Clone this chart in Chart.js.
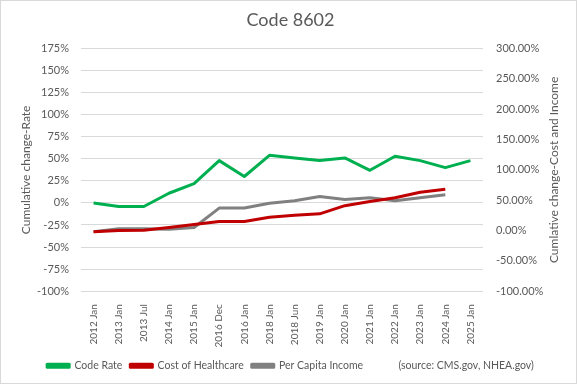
<!DOCTYPE html>
<html>
<head>
<meta charset="utf-8">
<script src="https://cdn.jsdelivr.net/npm/chart.js@4"></script>
<style>
  html, body { margin: 0; padding: 0; background: #fff; }
  #wrap { width: 575px; height: 382px; border: 1px solid #d9d9d9; }
</style>
</head>
<body>
<div id="wrap"><canvas id="chart" width="575" height="382"></canvas></div>
<script>
// categories (x axis)
const periods = ['2012 Jan', '2013 Jan', '2013 Jul', '2014 Jan', '2015 Jan', '2016 Dec', '2016 Jan', '2018 Jan',
  '2018 Jun', '2019 Jan', '2020 Jan', '2021 Jan', '2022 Jan', '2023 Jan', '2024 Jan', '2025 Jan'];

// left axis: cumulative change of the rate (%)
const codeRate = [0, -4, -4, 11, 22, 48, 30, 54, 51, 48, 51, 37, 53, 48, 40, 48];

// right axis: cumulative change of cost and income (%)
const costHealthcare = [-2, 0, 0.5, 5, 10, 15, 15, 22, 25, 27.5, 41, 48, 54, 63, 68, null];
const perCapitaIncome = [-2, 3, 3, 2, 5, 37, 37, 45, 49, 56, 51, 54, 49, 54, 59, null];

const sourceNote = '(source: CMS.gov, NHEA.gov)';
const rightTitle = 'Cumlative change-Cost and Income';

const FONT = 'Lato, "Liberation Sans", sans-serif';
const GREY = '#595959';

// right axis title, reading bottom to top like the left one
const rightTitlePlugin = {
    id: 'rightTitle',
    afterDraw(chart) {
        const c = chart.ctx;
        const area = chart.chartArea;
        c.save();
        c.translate(553, (area.top + area.bottom) / 2);
        c.rotate(-Math.PI / 2);
        c.fillStyle = GREY;
        c.font = '12px ' + FONT;
        c.textAlign = 'center';
        c.textBaseline = 'middle';
        c.fillText(rightTitle, 0, 0);
        c.restore();
    }
};

const ctx = document.getElementById('chart').getContext('2d');
new Chart(ctx, {
    type: 'line',
    data: {
        labels: periods,
        datasets: [
            { label: 'Code Rate', data: codeRate, yAxisID: 'y', borderColor: '#00B050', backgroundColor: '#00B050' },
            { label: 'Cost of Healthcare', data: costHealthcare, yAxisID: 'y1', borderColor: '#C00000', backgroundColor: '#C00000' },
            { label: 'Per Capita Income', data: perCapitaIncome, yAxisID: 'y1', borderColor: '#808080', backgroundColor: '#808080' },
            // only a text entry in the legend
            { label: sourceNote, data: [], yAxisID: 'y1', borderColor: 'rgba(0,0,0,0)', backgroundColor: 'rgba(0,0,0,0)' }
        ]
    },
    plugins: [rightTitlePlugin],
    options: {
        responsive: false,
        animation: false,
        layout: { padding: { left: 18, right: 14, top: 0, bottom: 2 } },
        elements: {
            line: { borderWidth: 3, tension: 0, borderJoinStyle: 'round' },
            point: { radius: 0 }
        },
        plugins: {
            title: {
                display: true,
                text: 'Code 8602',
                color: GREY,
                font: { family: FONT, size: 18, weight: 'normal' },
                padding: { top: 8, bottom: 18 }
            },
            legend: {
                position: 'bottom',
                labels: {
                    color: GREY,
                    font: { family: FONT, size: 10.5 },
                    boxWidth: 22,
                    boxHeight: 3,
                    padding: 8
                }
            },
            tooltip: { enabled: false }
        },
        scales: {
            x: {
                offset: true,
                grid: { display: false },
                border: { display: false },
                ticks: { color: GREY, font: { family: FONT, size: 10 }, minRotation: 90, maxRotation: 90, autoSkip: false, padding: 5 }
            },
            y: {
                position: 'left',
                min: -100,
                max: 175,
                grid: { color: '#d9d9d9', drawTicks: false },
                border: { display: false },
                ticks: { stepSize: 25, color: GREY, font: { family: FONT, size: 11 }, padding: 12, callback: v => v + '%' },
                title: { display: true, text: 'Cumulative change-Rate', color: GREY, font: { family: FONT, size: 12 }, padding: 0 },
                afterFit: s => { s.width = 62; }
            },
            y1: {
                position: 'right',
                min: -100,
                max: 300,
                grid: { display: false, drawTicks: false },
                border: { display: false },
                ticks: { stepSize: 50, color: GREY, font: { family: FONT, size: 11 }, padding: 13, callback: v => v.toFixed(2) + '%' },
                afterFit: s => { s.width = 79; }
            }
        }
    }
});
</script>
</body>
</html>
